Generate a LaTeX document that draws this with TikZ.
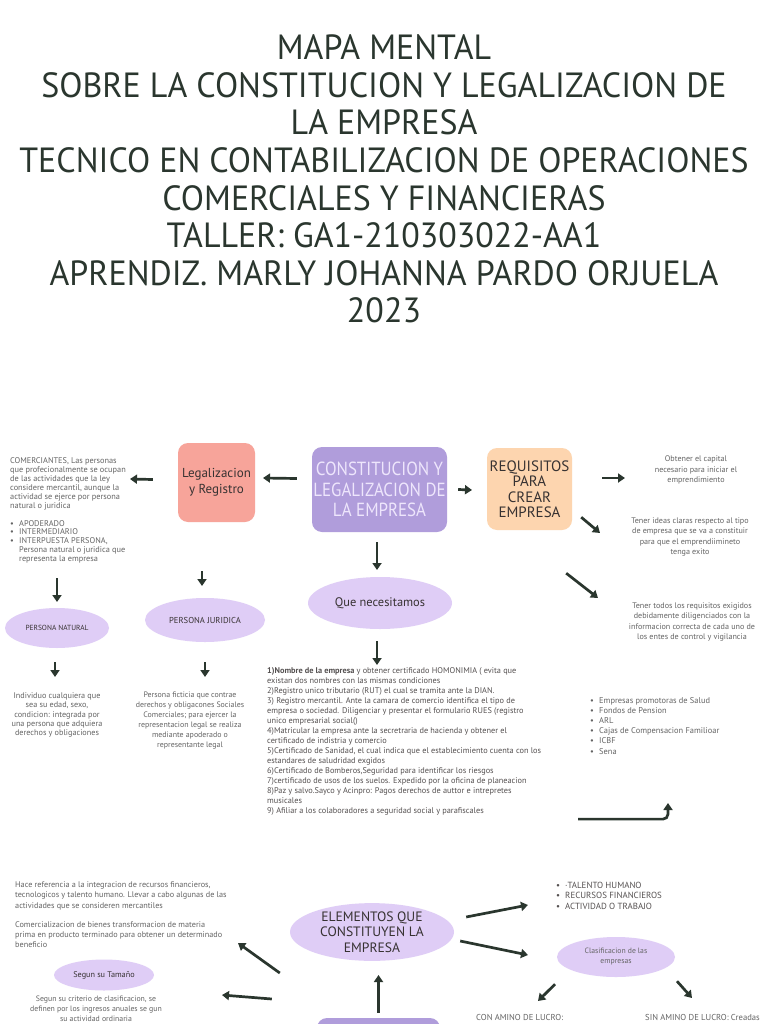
\documentclass[tikz,border=0pt]{standalone}
\usepackage{fontspec}
\newfontfamily\handfont{PT Sans}
\newfontfamily\titlefont[FakeStretch=0.97]{PT Sans}
\newfontfamily\cardfont[FakeStretch=0.89]{PT Sans}
\usetikzlibrary{arrows.meta,shapes.geometric}
\definecolor{ink}{RGB}{42,54,46}
\definecolor{purplebox}{RGB}{176,157,219}
\definecolor{lilactext}{RGB}{238,230,252}
\definecolor{salmon}{RGB}{247,164,154}
\definecolor{peach}{RGB}{253,213,175}
\definecolor{lavender}{RGB}{223,205,246}
\definecolor{greytext}{RGB}{100,100,100}
\definecolor{darktext}{RGB}{55,50,50}
\newcommand{\fs}[2]{\handfont\fontsize{#1}{#2}\selectfont}
\newcommand{\bul}{\makebox[9pt][l]{\textbullet}}
\tikzset{
  arr/.style={-{Triangle[width=9pt,length=7pt]}, line width=2.7pt, ink},
  note/.style={font=\fs{8.1}{10.5}, text=greytext, inner sep=0pt, align=center},
  bubble/.style={ellipse, fill=lavender, inner sep=0pt, align=center, text=darktext},
  card/.style={rectangle, rounded corners=10pt, inner sep=0pt, align=center}
}

\begin{document}
\begin{tikzpicture}[x=1pt,y=-1pt]
  % Page
  \clip (0,0) rectangle (768,1024);
  \fill[white] (0,0) rectangle (768,1024);

  % Title
  \node[font=\titlefont\fontsize{35}{37.6}\selectfont, text=ink, align=center] (title) at (384,179)
    {MAPA MENTAL\\ SOBRE LA CONSTITUCION Y LEGALIZACION DE\\ LA EMPRESA\\
     TECNICO EN CONTABILIZACION DE OPERACIONES\\ COMERCIALES Y FINANCIERAS\\
     TALLER: GA1-210303022-AA1\\ APRENDIZ. MARLY JOHANNA PARDO ORJUELA\\ 2023};

  % Central cards
  \node[card, fill=purplebox, minimum width=135pt, minimum height=85pt, text=lilactext,
        font=\cardfont\fontsize{19}{20.5}\selectfont]
    (main) at (379.5,489.5) {CONSTITUCION Y\\LEGALIZACION DE\\LA EMPRESA};
  \node[card, fill=salmon, minimum width=77pt, minimum height=79pt, text=darktext, font=\fs{13}{16}]
    (legal) at (216.5,482.5) {Legalizacion\\y Registro};
  \node[card, fill=peach, minimum width=85pt, minimum height=82pt, text=darktext, font=\fs{15}{15.5}]
    (requi) at (529.5,489) {REQUISITOS\\PARA\\CREAR\\EMPRESA};

  % Requisitos (right)
  \node[note] (capital) at (696,470) {Obtener el capital\\necesario para iniciar el\\emprendimiento};
  \node[note] (ideas) at (690,537) {Tener ideas claras respecto al tipo\\de empresa que se va a constituir\\para que el emprendiimineto\\tenga  exito};
  \node[note] (todos) at (692,622) {Tener todos los requisitos exigidos\\debidamente diligenciados con la\\informacion correcta de cada uno de\\los entes de control y vigilancia};
  \node[note, align=left, anchor=north west, font=\fs{8.4}{10.2}] (eps) at (590,697)
    {\bul Empresas  promotoras de Salud\\ \bul Fondos de Pension\\ \bul ARL\\
     \bul Cajas de Compensacion Familioar\\ \bul ICBF\\ \bul Sena};

  % Comerciantes (left)
  \node[note, align=left, anchor=north west, font=\fs{8.3}{9}] (comer) at (10,457)
    {COMERCIANTES, Las personas\\ que profecionalmente se ocupan\\ de las actividades que la ley\\
     considere mercantil, aunque la\\ actividad se ejerce por persona\\ natural o juridica};
  \node[note, align=left, anchor=north west, font=\fs{8.3}{8.8}] (comerlist) at (10,520)
    {\bul APODERADO\\ \bul INTERMEDIARIO\\ \bul INTERPUESTA PERSONA,\\
     \hspace*{9pt}Persona natural o juridica que\\ \hspace*{9pt}representa la empresa};

  % Personas
  \node[bubble, minimum width=104pt, minimum height=40pt, font=\fs{7.4}{10}] (pnat) at (57,628) {PERSONA NATURAL};
  \node[bubble, minimum width=120pt, minimum height=44pt, font=\fs{8.6}{10}] (pjur) at (205,620) {PERSONA JURIDICA};
  \node[note, font=\fs{8.2}{9.4}] (pnatdesc) at (57,715)
    {Individuo cualquiera que\\ sea su edad, sexo,\\ condicion: integrada por\\ una persona que adquiera\\ derechos y obligaciones};
  \node[note, font=\fs{7.9}{10}] (pjurdesc) at (190,721)
    {Persona ficticia que contrae\\ derechos y obligacones Sociales\\ Comerciales; para ejercer la\\
     representacion legal se realiza\\ mediante apoderado o\\ representante legal};

  % Que necesitamos
  \node[bubble, minimum width=144pt, minimum height=52pt, font=\fs{12.4}{14}] (quenec) at (380,603) {Que necesitamos};
  \node[note, align=left, anchor=north west, text=darktext!85, font=\fs{8.3}{10}] (needs) at (267,667)
    {\textbf{1)Nombre de la empresa} y obtener certificado HOMONIMIA ( evita que\\
     existan dos nombres con las mismas condiciones\\
     2)Registro unico tributario (RUT) el cual se tramita ante la DIAN.\\
     3) Registro mercantil. Ante la camara de comercio identifica el tipo de\\
     empresa o sociedad. Diligenciar y presentar el  formulario RUES (registro\\
     unico empresarial social()\\
     4)Matricular la empresa ante la secretraria de hacienda y obtener el\\
     certificado de indistria y  comercio\\
     5)Certificado de Sanidad, el cual indica que el establecimiento cuenta con los\\
     estandares de saludridad exgidos\\
     6)Certificado de Bomberos,Seguridad para identificar los  riesgos\\
     7)certificado de usos de los suelos. Expedido por la oficina de planeacion\\
     8)Paz y salvo.Sayco y Acinpro: Pagos derechos de auttor e intrepretes\\
     musicales\\
     9) Afiliar a los colaboradores a seguridad social y parafiscales};

  % Elementos (bottom)
  \node[bubble, minimum width=164pt, minimum height=56pt, font=\fs{13.6}{15.5}] (elem) at (372,932) {ELEMENTOS QUE\\CONSTITUYEN LA\\EMPRESA};
  \node[card, fill=purplebox, minimum width=123pt, minimum height=54pt] (base) at (378.5,1045) {};
  \node[note, align=left, anchor=north west, font=\fs{8.2}{10.5}] (hace) at (15,881)
    {Hace referencia a la integracion de recursos financieros,\\
     tecnologicos y  talento humano. Llevar a cabo algunas de las\\
     actividades que se consideren mercantiles};
  \node[note, align=left, anchor=north west, font=\fs{8.2}{10}] (comerc) at (15,921)
    {Comercializacion de bienes transformacion de materia\\
     prima en producto terminado para obtener un determinado\\ beneficio};
  \node[bubble, minimum width=100pt, minimum height=31pt, font=\fs{8.2}{10}] (tam) at (104,975) {Segun su Tamaño};
  \node[note, font=\fs{7.8}{10}] (tamdesc) at (96,1009)
    {Segun su criterio de clasificacion, se\\ definen por los ingresos anuales se gun\\ su actividad ordinaria};
  \node[note, align=left, anchor=north west, text=darktext!85, font=\fs{8.9}{10.3}] (talent) at (556,882)
    {\bul ·TALENTO HUMANO\\ \bul RECURSOS FINANCIEROS\\ \bul ACTIVIDAD O TRABAJO};
  \node[bubble, minimum width=118pt, minimum height=40pt, font=\fs{7.7}{10}, text=greytext] (clasif) at (616,957) {Clasificacion de las\\empresas};
  \node[note, anchor=west, font=\fs{8.6}{10}] (conlucro) at (476,1017) {CON AMINO DE LUCRO:};
  \node[note, anchor=west, font=\fs{8.6}{10}] (sinlucro) at (645,1017) {SIN AMINO DE LUCRO: Creadas};

  % Arrow tips
  \coordinate (t1) at (263,478);
  \coordinate (t2) at (130,479);
  \coordinate (t3) at (472,490);
  \coordinate (t4) at (625,478);
  \coordinate (t5) at (600,533);
  \coordinate (t6) at (598,598);
  \coordinate (t7) at (377,570);
  \coordinate (t8) at (377,665);
  \coordinate (t9) at (202,586);
  \coordinate (t10) at (57,602);
  \coordinate (t11) at (55,677);
  \coordinate (t12) at (205,677);
  \coordinate (t13) at (238,943);
  \coordinate (t14) at (222,995);
  \coordinate (t15) at (378.5,975);
  \coordinate (t16) at (528,905);
  \coordinate (t17) at (528,955);
  \coordinate (t18) at (538,1001);
  \coordinate (t19) at (692,998);
  \coordinate (t20) at (668,803);

  % Arrows
  \draw[arr] ([shift={(-15,-11)}]main.west) -- (t1);
  \draw[arr] ([shift={(-25,-3)}]legal.west) -- (t2);
  \draw[arr] ([shift={(11,0)}]main.east) -- (t3);
  \draw[arr] ([shift={(30,-11)}]requi.east) -- (t4);
  \draw[arr] ([shift={(9,-13)}]requi.south east) -- (t5);
  \draw[arr] ([shift={(-6,43)}]requi.south east) -- (t6);
  \draw[arr] ([shift={(-2.5,10)}]main.south) -- (t7);
  \draw[arr] ([shift={(-3,12)}]quenec.south) -- (t8);
  \draw[arr] ([shift={(-14.5,49)}]legal.south) -- (t9);
  \draw[arr] ([shift={(47,15)}]comerlist.south west) -- (t10);
  \draw[arr] ([shift={(-2,14)}]pnat.south) -- (t11);
  \draw[arr] ([shift={(0,20)}]pjur.south) -- (t12);
  \draw[arr] ([shift={(-10,41)}]elem.west) -- (t13);
  \draw[arr] ([shift={(-18,67)}]elem.west) -- (t14);
  \draw[arr] ([shift={(0,-5)}]base.north) -- (t15);
  \draw[arr] ([shift={(12,-15)}]elem.east) -- (t16);
  \draw[arr] ([shift={(6,9)}]elem.east) -- (t17);
  \draw[arr] ([shift={(-61,7)}]clasif.south) -- (t18);
  \draw[arr] ([shift={(61,4)}]clasif.south) -- (t19);
  \draw[arr, rounded corners=5pt] ([shift={(311,4)}]needs.south west) -| (t20);
\end{tikzpicture}
\end{document}
